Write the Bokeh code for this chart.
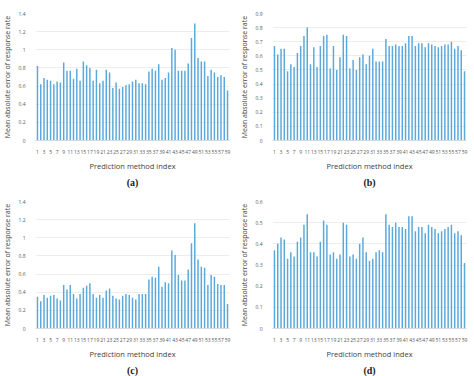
from bokeh.plotting import figure
from bokeh.layouts import gridplot
from bokeh.models import FixedTicker, Title, Range1d
from bokeh.embed import file_html
from bokeh.resources import INLINE

idx = list(range(1, 60))
xticks = list(range(1, 60, 2))

vals_a = [0.82, 0.62, 0.69, 0.67, 0.66, 0.62, 0.65, 0.64, 0.86, 0.77, 0.77, 0.68, 0.79, 0.66, 0.87, 0.83, 0.80, 0.66, 0.78, 0.63,
          0.66, 0.78, 0.75, 0.58, 0.64, 0.57, 0.59, 0.61, 0.62, 0.65, 0.67, 0.63, 0.63, 0.62, 0.76, 0.79, 0.77, 0.84, 0.67, 0.69,
          0.75, 1.02, 1.00, 0.77, 0.77, 0.77, 0.85, 1.13, 1.29, 0.91, 0.87, 0.87, 0.71, 0.78, 0.75, 0.70, 0.72, 0.70, 0.55]
vals_b = [0.67, 0.61, 0.65, 0.65, 0.49, 0.54, 0.52, 0.62, 0.67, 0.74, 0.80, 0.54, 0.66, 0.52, 0.67, 0.74, 0.75, 0.51, 0.67, 0.50,
          0.59, 0.75, 0.74, 0.51, 0.57, 0.50, 0.59, 0.61, 0.54, 0.60, 0.65, 0.56, 0.56, 0.56, 0.72, 0.67, 0.67, 0.68, 0.67, 0.67,
          0.69, 0.74, 0.74, 0.67, 0.69, 0.69, 0.66, 0.69, 0.68, 0.67, 0.66, 0.67, 0.68, 0.68, 0.70, 0.65, 0.67, 0.64, 0.49]
vals_c = [0.35, 0.30, 0.37, 0.34, 0.36, 0.37, 0.33, 0.31, 0.48, 0.43, 0.48, 0.38, 0.33, 0.38, 0.45, 0.47, 0.50, 0.38, 0.34, 0.37,
          0.34, 0.42, 0.44, 0.36, 0.33, 0.32, 0.36, 0.38, 0.37, 0.34, 0.32, 0.38, 0.38, 0.38, 0.54, 0.57, 0.56, 0.68, 0.46, 0.51,
          0.50, 0.86, 0.81, 0.59, 0.53, 0.53, 0.65, 0.94, 1.16, 0.76, 0.68, 0.67, 0.48, 0.59, 0.57, 0.49, 0.48, 0.48, 0.27]
vals_d = [0.37, 0.40, 0.43, 0.42, 0.33, 0.36, 0.34, 0.41, 0.43, 0.49, 0.54, 0.36, 0.36, 0.34, 0.41, 0.51, 0.49, 0.35, 0.36, 0.33,
          0.35, 0.50, 0.49, 0.34, 0.35, 0.33, 0.40, 0.43, 0.36, 0.32, 0.33, 0.36, 0.37, 0.36, 0.54, 0.49, 0.48, 0.50, 0.48, 0.48,
          0.47, 0.53, 0.53, 0.46, 0.48, 0.48, 0.45, 0.49, 0.48, 0.47, 0.45, 0.46, 0.47, 0.48, 0.49, 0.45, 0.46, 0.44, 0.31]

panels = [("(a)", vals_a, 1.4, [0, 0.2, 0.4, 0.6, 0.8, 1.0, 1.2, 1.4]),
          ("(b)", vals_b, 0.9, [0, 0.1, 0.2, 0.3, 0.4, 0.5, 0.6, 0.7, 0.8, 0.9]),
          ("(c)", vals_c, 1.4, [0, 0.2, 0.4, 0.6, 0.8, 1.0, 1.2, 1.4]),
          ("(d)", vals_d, 0.6, [0, 0.1, 0.2, 0.3, 0.4, 0.5, 0.6])]

def fmt(v):
    s = ("%.1f" % v)
    if s.endswith(".0"):
        s = s[:-2]
    return s

figs = []
for label, vals, ymax, yticks in panels:
    p = figure(width=237, height=188, output_backend="svg", toolbar_location=None,
               x_range=Range1d(0.4, 59.6), y_range=Range1d(0, ymax),
               min_border_left=4, min_border_right=8, min_border_top=13, min_border_bottom=0)
    p.vbar(x=idx, top=vals, width=0.45, color="#5AA9DA", line_color=None)
    p.xaxis.ticker = FixedTicker(ticks=xticks)
    p.yaxis.ticker = FixedTicker(ticks=yticks)
    p.yaxis.major_label_overrides = {t: fmt(t) for t in yticks}
    p.xaxis.major_label_overrides = {t: str(t) for t in xticks}
    p.xaxis.axis_label = "Prediction method index"
    p.yaxis.axis_label = "Mean absolute error of response rate"
    for ax in (p.xaxis, p.yaxis):
        ax.major_tick_line_color = None
        ax.minor_tick_line_color = None
        ax.major_label_text_font = "Open Sans"
        ax.major_label_text_font_size = "5px"
        ax.major_label_text_color = "#595959"
        ax.axis_label_text_font = "Open Sans"
        ax.axis_label_text_font_style = "normal"
        ax.axis_label_text_font_size = "7.5px"
        ax.axis_label_text_color = "#404040"
    p.xaxis.major_label_standoff = 3
    p.xaxis.axis_label_standoff = 4
    p.yaxis.axis_label_text_font_size = "7px"
    p.yaxis.major_label_standoff = 4
    p.yaxis.axis_label_standoff = 3
    p.yaxis.axis_line_color = None
    p.xaxis.axis_line_color = "#D9D9D9"
    p.xgrid.grid_line_color = None
    p.ygrid.grid_line_color = "#EDEDED"
    p.outline_line_color = None
    p.add_layout(Title(text=label, align="center", text_font="Liberation Serif",
                       text_font_size="10px", text_font_style="bold", text_color="#222222",
                       standoff=2, offset=0), "below")
    figs.append(p)

grid = gridplot([[figs[0], figs[1]], [figs[2], figs[3]]], toolbar_location=None)
open("out.html", "w").write(file_html(grid, INLINE))
